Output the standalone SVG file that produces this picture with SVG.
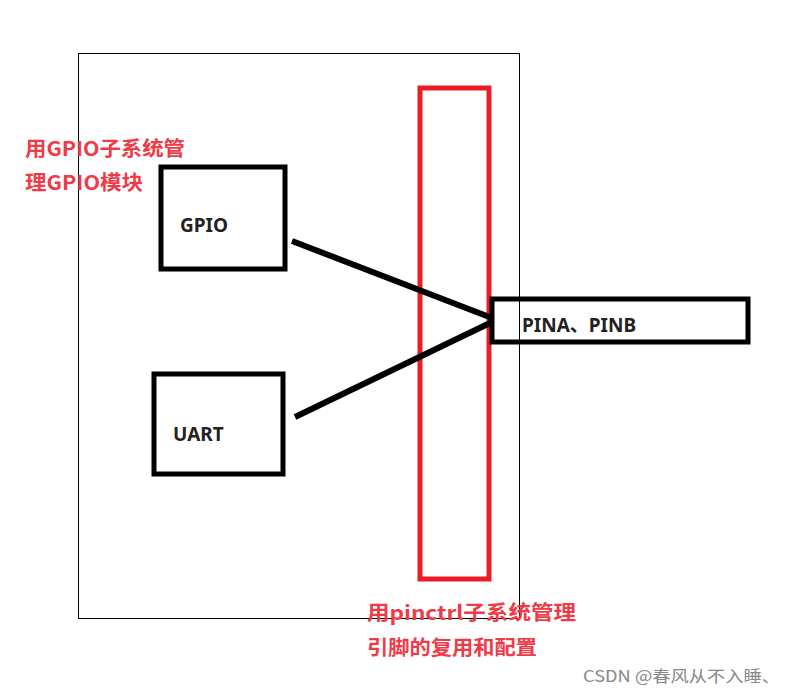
<svg xmlns="http://www.w3.org/2000/svg" width="795" height="696" viewBox="0 0 795 696">
<style>
.box{fill:none;stroke:#000;stroke-width:5}
.lbl{font-family:"Noto Sans","Noto Sans CJK SC",sans-serif;font-weight:bold;font-size:19px;fill:#222}
.note{font-family:"Noto Sans CJK SC",sans-serif;font-weight:bold;font-size:20px;fill:#f03a47}
</style>
<rect width="795" height="696" fill="#fff"/>
<rect id="outer" x="78.5" y="53.5" width="441" height="565" fill="none" stroke="#000" stroke-width="1"/>
<rect id="pinctrl" x="420" y="88" width="69" height="491" fill="none" stroke="#ed1c24" stroke-width="5"/>
<g id="gpio"><rect class="box" x="161" y="167" width="124" height="102"/><text class="lbl" x="180" y="232">GPIO</text></g>
<g id="uart"><rect class="box" x="154" y="374" width="129" height="100"/><text class="lbl" x="173" y="441">UART</text></g>
<g id="pins"><rect class="box" x="492" y="299" width="256" height="43"/><text class="lbl" x="522" y="332">PINA、PINB</text></g>
<g id="connectors" stroke="#000" stroke-width="6">
<line x1="292" y1="241" x2="492" y2="318"/>
<line x1="295" y1="417" x2="492" y2="322"/>
</g>
<text class="note" x="25" y="156" textLength="160" lengthAdjust="spacingAndGlyphs">用GPIO子系统管</text>
<text class="note" x="25" y="190" textLength="118" lengthAdjust="spacingAndGlyphs">理GPIO模块</text>
<text class="note" x="367" y="620" textLength="209" lengthAdjust="spacingAndGlyphs">用pinctrl子系统管理</text>
<text class="note" x="367" y="655" textLength="170" lengthAdjust="spacingAndGlyphs">引脚的复用和配置</text>
<text x="583" y="682" font-family="Noto Sans CJK SC,sans-serif" font-size="16" fill="#888" textLength="197" lengthAdjust="spacingAndGlyphs">CSDN @春风从不入睡、</text>
</svg>
